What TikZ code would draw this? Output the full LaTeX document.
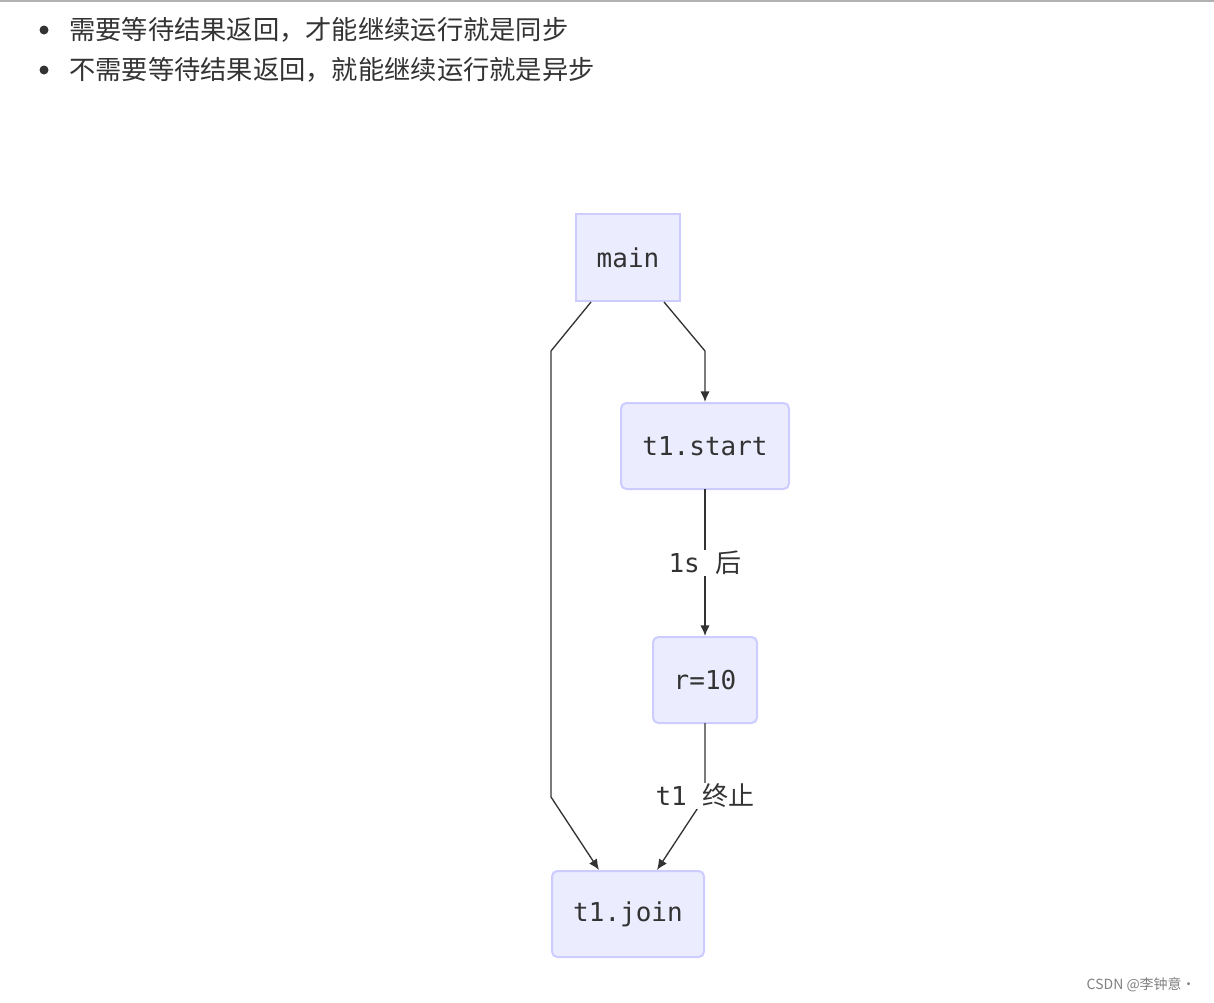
\documentclass[tikz,border=0pt]{standalone}
\usepackage{fontspec}
\setmainfont{Noto Sans CJK SC}
\setmonofont{DejaVu Sans Mono}
\newfontfamily\cjk{Noto Sans CJK SC}
\usetikzlibrary{arrows.meta}
\definecolor{nodefill}{HTML}{ECECFF}
\definecolor{nodedraw}{HTML}{CCCCFF}
\definecolor{txt}{HTML}{333333}
\tikzset{
 box/.style={draw=nodedraw,fill=nodefill,line width=1.5pt,font=\ttfamily\fontsize{19.5}{22}\selectfont,text=txt,anchor=center},
 conn/.style={line width=1pt,draw=txt,-{Latex[length=8pt,width=7pt]}},
 lbl/.style={fill=white,inner sep=1pt,font=\ttfamily\fontsize{19.5}{22}\selectfont,text=txt},
}
\begin{document}
\begin{tikzpicture}[x=0.75pt,y=-0.75pt]
\useasboundingbox (0,0) rectangle (1214,1003);
\draw[gray!60,line width=1pt] (0,1) -- (1214,1);
\foreach \yy/\tt in {30/需要等待结果返回，才能继续运行就是同步,70/不需要等待结果返回，就能继续运行就是异步}{
 \fill[txt] (44,\yy) circle (4.5);
 \node[anchor=west,inner sep=0,text=txt,font=\fontsize{19.7}{22}\selectfont] (b\yy) at (69,\yy) {\tt};
}
\path[box] (576,214) rectangle (680,301);
\node[box,draw=none,fill=none] (main) at (628,257.5) {main};
\draw[box,rounded corners=4pt] (621,403) rectangle (789,489);
\node[box,draw=none,fill=none] (start) at (705,446) {t1.start};
\draw[box,rounded corners=4pt] (653,637) rectangle (757,723);
\node[box,draw=none,fill=none] (r) at (705,680) {r=10};
\draw[box,rounded corners=4pt] (552,871) rectangle (704,957);
\node[box,draw=none,fill=none] (join) at (628,914) {t1.join};
\coordinate (a1) at (664,302);
\coordinate (a2) at (705,351);
\coordinate (a3) at (705,402);
\draw[conn] (a1) -- (a2) -- (a3);
\coordinate (b1) at (591,302);
\coordinate (b2) at (551,351);
\coordinate (b3) at (551,797);
\coordinate (b4) at (599,870);
\draw[conn] (b1) -- (b2) -- (b3) -- (b4);
\coordinate (c1) at (705,489);
\coordinate (c2) at (705,636);
\draw[conn] (c1) -- (c2) node[lbl,pos=0.505] {1s {\cjk 后}};
\coordinate (d1) at (705,723);
\coordinate (d2) at (705,797);
\coordinate (d3) at (657,870);
\draw[conn] (d1) -- (d2) -- (d3);
\node[lbl] (l2) at (705,796) {t1 {\cjk 终止}};
\node[anchor=east,text=gray,font=\fontsize{10.5}{12}\selectfont,inner sep=0] (csdn) at (1196,985) {CSDN @李钟意·};
\end{tikzpicture}
\end{document}
